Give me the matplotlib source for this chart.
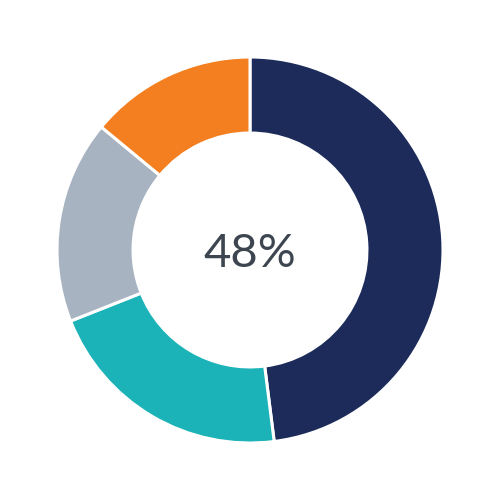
import matplotlib
matplotlib.use("Agg")
import matplotlib.pyplot as plt

# share of each segment, clockwise from 12 o'clock
labels = ["Navy", "Teal", "Gray", "Orange"]
values = [48, 21, 17, 14]
colors = ["#1c2b5a", "#1bb3b7", "#a8b3c2", "#f47f20"]
center_text = "48%"

fig = plt.figure(figsize=(5, 5), dpi=100)
ax = fig.add_axes([0, 0, 1, 1])

ax.pie(values, colors=colors, startangle=90, counterclock=False,
       radius=1.0,
       wedgeprops=dict(width=0.394, edgecolor="white", linewidth=2.2))

ax.text(0, -0.02, center_text, ha="center", va="center", fontsize=34,
        color="#3d4650", family=["Lato", "DejaVu Sans"], fontweight="normal")

lim = 250 / 193
ax.set_xlim(-lim, lim)
ax.set_ylim(-lim, lim)
ax.set_aspect("equal")
ax.axis("off")

fig.savefig("out.png", dpi=100, facecolor="white")
